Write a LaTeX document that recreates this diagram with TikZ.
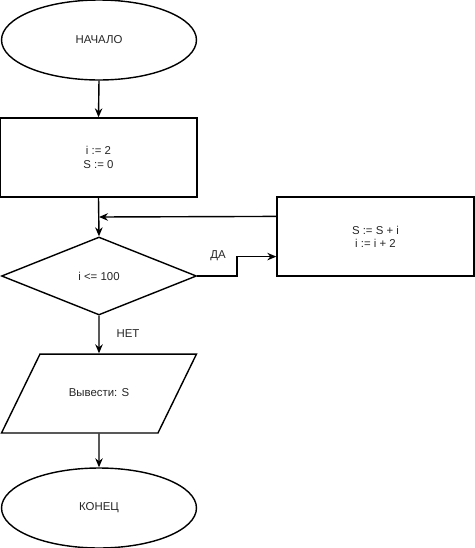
\documentclass[tikz,border=0pt]{standalone}
\usepackage{fontspec}
\setmainfont{Liberation Sans}
\usetikzlibrary{shapes.geometric,arrows.meta,calc}
\begin{document}
\begin{tikzpicture}[
  x=0.02cm, y=-0.02cm, line width=0.8pt,
  every node/.style={font=\fontsize{6.5}{7.5}\selectfont, text=black!85},
  term/.style={draw, ellipse, minimum width=3.9cm, minimum height=1.6cm, inner sep=0pt},
  proc/.style={draw, rectangle, align=center, minimum width=3.94cm, minimum height=1.58cm, inner sep=0pt},
  cond/.style={draw, diamond, aspect=2.5, minimum width=3.9cm, minimum height=1.56cm, inner sep=0pt},
  io/.style={draw, trapezium, trapezium left angle=64, trapezium right angle=116, trapezium stretches body, minimum width=3.9cm, text height=5pt, text depth=1.5pt, inner xsep=0pt, inner ysep=0.675cm},
  arr/.style={-{Stealth[length=0.18cm,width=0.15cm]}}
]
\useasboundingbox (0,0) rectangle (474,548);
\node[term] (start) at (99,40) {НАЧАЛО};
\node[proc] (init) at (98.5,157.5) {i := 2\\S := 0};
\node[cond] (check) at (99,276) {i <= 100};
\node[proc] (upd) at (375.5,236.5) {S := S + i\\i := i + 2};
\node[io] (out) at (99,393.5) {Вывести: S};
\node[term] (stop) at (99,508) {КОНЕЦ};
\coordinate (merge) at (99,217);
\coordinate (updin) at ($(upd.north west)!0.75!(upd.south west)$);
\coordinate (updout) at ($(upd.north west)!0.25!(upd.south west)$);
\draw[arr] (start.south) -- (init.north);
\draw[arr] (init.south) -- (check.north);
\draw[arr] (updout) -- (merge);
\draw[arr] (check.east) -- ++(40,0) |- (updin);
\node (yes) at (218,256) {ДА};
\draw[arr] (check.south) -- (out.north);
\node (no) at (128,334) {НЕТ};
\draw[arr] (out.south) -- (stop.north);
\end{tikzpicture}
\end{document}
